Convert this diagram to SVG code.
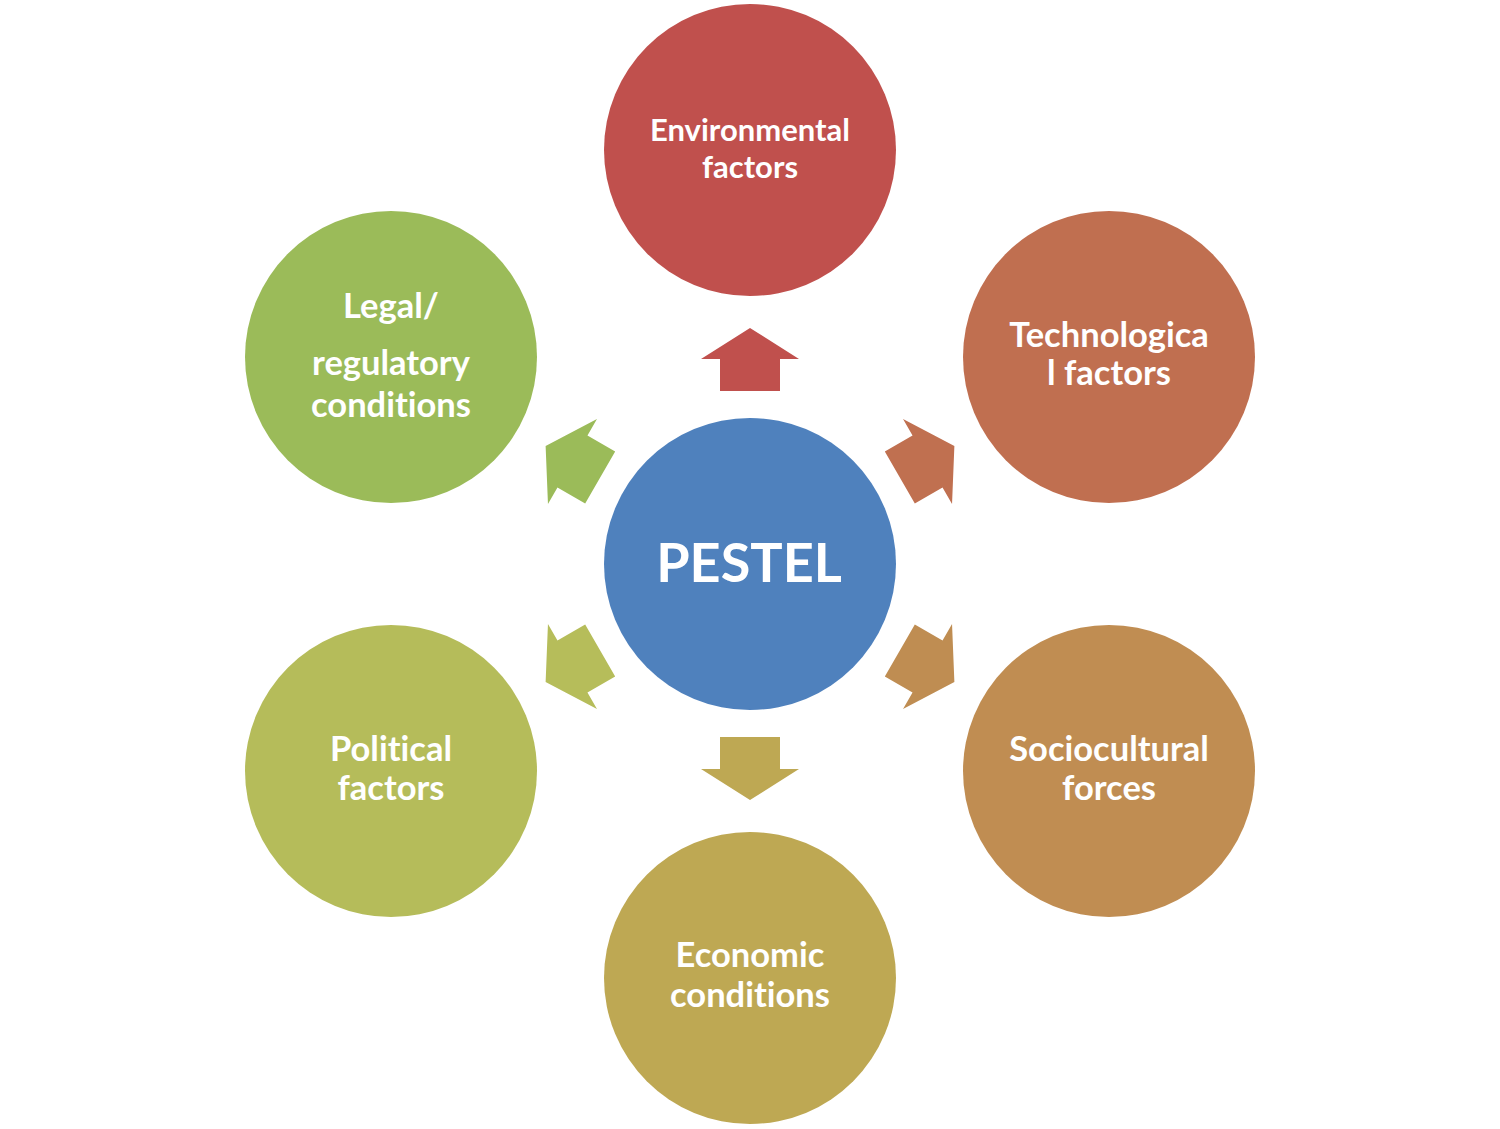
<svg xmlns="http://www.w3.org/2000/svg" xmlns:xlink="http://www.w3.org/1999/xlink" width="1500" height="1129" viewBox="0 0 1500 1129">
<style>
.lbl{font-family:Lato,"Liberation Sans",sans-serif;font-weight:700;fill:#FFFFFF;text-anchor:middle;font-variant-ligatures:none;font-feature-settings:"liga" 0,"clig" 0}
.t34{font-size:34.5px}
.t31{font-size:31px}
.big{font-size:54px}
</style>
<defs>
<polygon id="arr" points="-30,-173 -30,-205 -49,-205 0,-236 49,-205 30,-205 30,-173"/>
</defs>
<rect width="1500" height="1129" fill="#FFFFFF"/>
<g id="connectors">
<use xlink:href="#arr" href="#arr" transform="translate(750,564) rotate(0)" fill="#C0504D"/>
<use xlink:href="#arr" href="#arr" transform="translate(750,564) rotate(60)" fill="#C07050"/>
<use xlink:href="#arr" href="#arr" transform="translate(750,564) rotate(120)" fill="#BF8D52"/>
<use xlink:href="#arr" href="#arr" transform="translate(750,564) rotate(180)" fill="#BEA853"/>
<use xlink:href="#arr" href="#arr" transform="translate(750,564) rotate(240)" fill="#B6BD5A"/>
<use xlink:href="#arr" href="#arr" transform="translate(750,564) rotate(300)" fill="#9BBB59"/>
</g>
<g id="pestel">
<circle cx="750" cy="564" r="146" fill="#4F81BD"/>
<text class="lbl big" x="749" y="582">PESTEL</text>
</g>
<g id="environmental">
<circle cx="750" cy="150" r="146" fill="#C0504D"/>
<text class="lbl t31" x="750" y="141">Environmental</text>
<text class="lbl t31" x="750" y="178">factors</text>
</g>
<g id="technological">
<circle cx="1109" cy="357" r="146" fill="#C06F50"/>
<text class="lbl t34" x="1109" y="347">Technologica</text>
<text class="lbl t34" x="1109" y="385">l factors</text>
</g>
<g id="sociocultural">
<circle cx="1109" cy="771" r="146" fill="#C08D52"/>
<text class="lbl t34" x="1109" y="761">Sociocultural</text>
<text class="lbl t34" x="1109" y="800">forces</text>
</g>
<g id="economic">
<circle cx="750" cy="978" r="146" fill="#BEA853"/>
<text class="lbl t34" x="750" y="967">Economic</text>
<text class="lbl t34" x="750" y="1007">conditions</text>
</g>
<g id="political">
<circle cx="391" cy="771" r="146" fill="#B5BC5A"/>
<text class="lbl t34" x="391" y="761">Political</text>
<text class="lbl t34" x="391" y="800">factors</text>
</g>
<g id="legal">
<circle cx="391" cy="357" r="146" fill="#9BBB59"/>
<text class="lbl t34" x="391" y="318">Legal/</text>
<text class="lbl t34" x="391" y="375">regulatory</text>
<text class="lbl t34" x="391" y="417">conditions</text>
</g>
</svg>
